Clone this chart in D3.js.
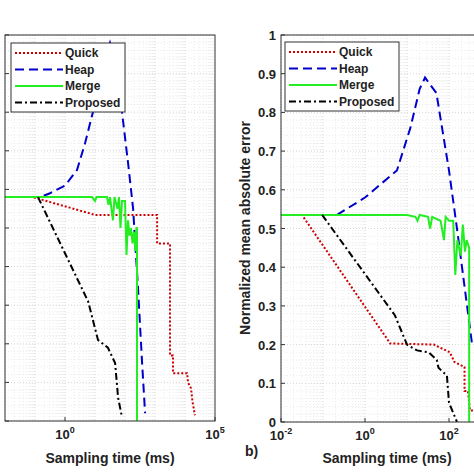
<!DOCTYPE html>
<html>
<head>
<meta charset="UTF-8">
<script src="https://d3js.org/d3.v7.min.js"></script>
<style>
  body { margin: 0; background: #fff; }
  text { font-family: "Liberation Sans", Arial, sans-serif; font-weight: bold; fill: #222; }
</style>
</head>
<body>
<svg width="474" height="474"></svg>
<script>
// data: [log10(time ms), normalized MAE]
const seriesNames = ["Quick", "Heap", "Merge", "Proposed"];
const colors = ["#cc0000", "#0000cc", "#22ee22", "#000000"];
const dashes = ["2,2", "9,5", null, "7,3,2,3"];

const leftQuick = [[-2.1,0.58],[-1.07,0.58],[1.0,0.534],[3.07,0.534],[3.07,0.46],[3.5,0.46],[3.5,0.17],[3.6,0.17],[3.6,0.124],[4.07,0.124],[4.1,0.1],[4.2,0.085],[4.25,0.05],[4.33,0.015]];
const leftHeap = [[-2.1,0.58],[-0.83,0.58],[-0.5,0.59],[0,0.61],[0.4,0.65],[0.67,0.72],[0.93,0.8],[1.17,0.9],[1.5,0.98],[1.77,0.9],[1.9,0.8],[2.1,0.67],[2.27,0.55],[2.43,0.35],[2.57,0.15],[2.67,0.02]];
const leftMerge = [[-2.1,0.58],[0.9,0.58],[1.0,0.57],[1.05,0.58],[1.4,0.58],[1.45,0.56],[1.5,0.58],[1.6,0.52],[1.65,0.58],[1.75,0.55],[1.8,0.58],[1.85,0.5],[1.9,0.57],[2.0,0.57],[2.05,0.43],[2.1,0.52],[2.15,0.48],[2.2,0.5],[2.25,0.46],[2.3,0.49],[2.35,0.44],[2.38,0.5],[2.4,0.5],[2.4,0.0]];
const leftProposed = [[-0.9,0.58],[0.77,0.31],[1.1,0.21],[1.43,0.19],[1.67,0.15],[1.77,0.06],[1.9,0.01]];

const rightQuick = [[-2,0.535],[-1.5,0.535],[0.6,0.203],[1.64,0.2],[2.02,0.18],[2.13,0.155],[2.37,0.142],[2.37,0.08],[2.45,0.08],[2.5,0.03],[2.7,0.03]];
const rightHeap = [[-2,0.535],[-0.67,0.535],[0,0.58],[0.76,0.65],[1.08,0.76],[1.3,0.86],[1.43,0.89],[1.7,0.85],[2.0,0.65],[2.19,0.5],[2.43,0.3],[2.55,0.2],[2.7,0.2]];
const rightMerge = [[-2,0.535],[1.0,0.535],[1.2,0.53],[1.25,0.52],[1.3,0.535],[1.5,0.53],[1.55,0.5],[1.6,0.53],[1.8,0.52],[1.88,0.47],[1.92,0.53],[2.0,0.52],[2.1,0.52],[2.15,0.38],[2.2,0.47],[2.28,0.43],[2.33,0.51],[2.38,0.44],[2.42,0.47],[2.48,0.45],[2.48,0.0]];
const rightProposed = [[-1.02,0.535],[0.71,0.276],[1.0,0.2],[1.24,0.185],[1.52,0.18],[1.71,0.16],[1.75,0.14],[1.95,0.12],[2.0,0.05],[2.19,0.0]];

const yTicks = [0, 0.1, 0.2, 0.3, 0.4, 0.5, 0.6, 0.7, 0.8, 0.9, 1];

const svg = d3.select("svg");

function panel(opt) {
  const x = d3.scaleLinear().domain(opt.xDomain).range([opt.left, opt.right]);
  const y = d3.scaleLinear().domain([0, 1]).range([opt.bottom, opt.top]);
  const g = svg.append("g");
  const clipId = "clip" + opt.id;
  g.append("clipPath").attr("id", clipId).append("rect")
    .attr("x", opt.left).attr("y", opt.top)
    .attr("width", opt.right - opt.left).attr("height", opt.bottom - opt.top);

  const grid = g.append("g");
  d3.range(0, 1.001, 0.02).forEach(v => {
    grid.append("line").attr("x1", opt.left).attr("x2", opt.right)
      .attr("y1", y(v)).attr("y2", y(v))
      .attr("stroke", v.toFixed(2).endsWith("0") ? "#ccc" : "#e4e4e4")
      .attr("stroke-dasharray", "1,2").attr("stroke-width", 0.8);
  });
  for (let d = Math.floor(opt.xDomain[0]); d < opt.xDomain[1]; d++) {
    for (let k = 1; k < 10; k++) {
      const lx = d + Math.log10(k);
      if (lx < opt.xDomain[0] || lx > opt.xDomain[1]) continue;
      grid.append("line").attr("x1", x(lx)).attr("x2", x(lx))
        .attr("y1", opt.top).attr("y2", opt.bottom)
        .attr("stroke", k === 1 ? "#ccc" : "#e4e4e4")
        .attr("stroke-dasharray", "1,2").attr("stroke-width", 0.8);
    }
  }

  const line = d3.line().x(d => x(d[0])).y(d => y(d[1]));
  const lines = g.append("g").attr("clip-path", `url(#${clipId})`);
  opt.series.forEach((s, i) => {
    lines.append("path").attr("d", line(s)).attr("fill", "none")
      .attr("stroke", colors[i]).attr("stroke-width", 2)
      .attr("stroke-dasharray", dashes[i]);
  });

  g.append("rect").attr("x", opt.left).attr("y", opt.top)
    .attr("width", opt.right - opt.left).attr("height", opt.bottom - opt.top)
    .attr("fill", "none").attr("stroke", "#333");

  yTicks.forEach(v => {
    g.append("line").attr("x1", opt.left).attr("x2", opt.left + 4)
      .attr("y1", y(v)).attr("y2", y(v)).attr("stroke", "#333");
    if (opt.yLabels) g.append("text").attr("x", opt.left - 5).attr("y", y(v) + 5)
      .attr("text-anchor", "end").attr("font-size", 13).text(v);
  });
  opt.xTicks.forEach(t => {
    g.append("line").attr("x1", x(t)).attr("x2", x(t))
      .attr("y1", opt.bottom).attr("y2", opt.bottom - 4).attr("stroke", "#333");
    const tx = g.append("text").attr("x", x(t)).attr("y", opt.bottom + 18)
      .attr("text-anchor", "middle").attr("font-size", 13);
    tx.append("tspan").text("10");
    tx.append("tspan").attr("dy", -6).attr("font-size", 9).text(t);
  });
  g.append("text").attr("x", opt.titleX).attr("y", 463)
    .attr("text-anchor", "middle").attr("font-size", 14).text("Sampling time (ms)");

  const lg = g.append("g").attr("transform", `translate(${opt.legend[0]},${opt.legend[1]})`);
  lg.append("rect").attr("width", 114).attr("height", 69)
    .attr("fill", "#fff").attr("stroke", "#333");
  seriesNames.forEach((n, i) => {
    const yy = 10 + i * 16.5;
    lg.append("line").attr("x1", 4).attr("x2", 52).attr("y1", yy).attr("y2", yy)
      .attr("stroke", colors[i]).attr("stroke-width", 2).attr("stroke-dasharray", dashes[i]);
    lg.append("text").attr("x", 54).attr("y", yy + 4).attr("font-size", 12).text(n);
  });
}

panel({ id: "a", xDomain: [-2, 5], left: 5, right: 215, top: 35, bottom: 421,
  xTicks: [0, 5], yLabels: false, titleX: 110, legend: [11, 43],
  series: [leftQuick, leftHeap, leftMerge, leftProposed] });

panel({ id: "b", xDomain: [-2, 6], left: 281, right: 281 + 8 * 42, top: 35, bottom: 422,
  xTicks: [-2, 0, 2], yLabels: true, titleX: 387, legend: [285, 42],
  series: [rightQuick, rightHeap, rightMerge, rightProposed] });

svg.append("text").attr("transform", "translate(250,228) rotate(-90)")
  .attr("text-anchor", "middle").attr("font-size", 14).text("Normalized mean absolute error");
svg.append("text").attr("x", 245).attr("y", 456).attr("font-size", 14).text("b)");
</script>
</body>
</html>
